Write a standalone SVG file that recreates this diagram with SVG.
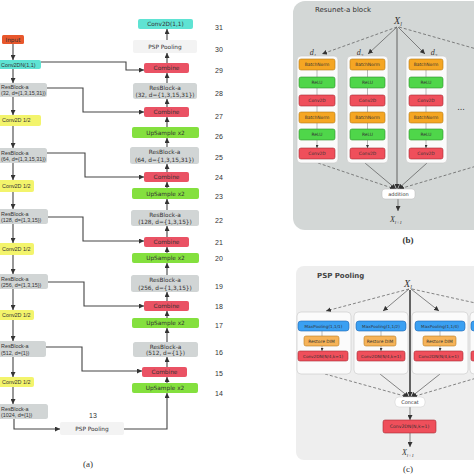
<svg xmlns="http://www.w3.org/2000/svg" width="474" height="474" viewBox="0 0 474 474">
<style>
text{font-family:"DejaVu Sans","Liberation Sans",sans-serif;fill:#333;text-anchor:middle}
.t{font-size:5.8px}
.l{font-family:"Liberation Sans",Arial,sans-serif;font-size:5.4px;text-anchor:start}
.n{font-size:7px;font-family:"Liberation Sans",sans-serif}
.cap{font-size:9px;font-family:"Liberation Serif",serif}
.math{font-size:10px;font-family:"Liberation Serif",serif;font-style:italic}
.inp{fill:#e8572c}
.cyan{fill:#5fe3d3}
.res{fill:#d1d5d5}
.yel{fill:#f3f46c}
.comb{fill:#ea5264}
.up{fill:#84e03e}
.psp{fill:#f3f3f3}
.ln{fill:none;stroke:#444;stroke-width:1.1}
.bl{fill:none;stroke:#555;stroke-width:0.7}
.dash{stroke-dasharray:3,2}
.col{fill:#fbfbfb;stroke:#c8c8c8;stroke-width:0.6}
.bn{fill:#f5a623;stroke:#b37a14;stroke-width:0.6}
.relu{fill:#4fd64a;stroke:#2c8f2a;stroke-width:0.6}
.cv{fill:#ef4f5b;stroke:#a52a33;stroke-width:0.6}
.mp{fill:#3aa0f2;stroke:#1c64b4;stroke-width:0.6}
.rd{fill:#f6b358;stroke:#b97c22;stroke-width:0.6}
.s{font-size:4.4px}
</style>
<defs>
<marker id="ah" viewBox="0 0 10 10" refX="10" refY="5" markerWidth="5" markerHeight="5" markerUnits="userSpaceOnUse" orient="auto"><path d="M0,0 L10,5 L0,10 z" fill="#333"/></marker>
<marker id="as" viewBox="0 0 10 10" refX="10" refY="5" markerWidth="3" markerHeight="3" markerUnits="userSpaceOnUse" orient="auto"><path d="M0,0 L10,5 L0,10 z" fill="#333"/></marker>
</defs>

<!-- panel (a) nodes: encoder -->
<g id="input"><rect class="inp" x="2" y="35" width="22" height="9" rx="1.5"/><text class="t" x="13" y="41.8">Input</text></g>
<g id="conv2dn"><rect class="cyan" x="-16" y="60" width="57" height="9" rx="2"/><text class="l" x="1" y="66.6">Conv2DN(1,1)</text></g>
<g id="enc1"><rect class="res" x="-22" y="83" width="69" height="14" rx="2.5"/><text class="l" x="1" y="89">ResBlock-a</text><text class="l" x="1" y="95.3">(32, d={1,3,15,31})</text></g>
<g id="down1"><rect class="yel" x="-14" y="115" width="55" height="11" rx="2"/><text class="l" x="2" y="122.3">Conv2D 1/2</text></g>
<g id="enc2"><rect class="res" x="-22" y="148" width="69" height="15" rx="2.5"/><text class="l" x="1" y="154.5">ResBlock-a</text><text class="l" x="1" y="161">(64, d={1,3,15,31})</text></g>
<g id="down2"><rect class="yel" x="-14" y="180" width="48" height="12" rx="2"/><text class="l" x="2" y="187.8">Conv2D 1/2</text></g>
<g id="enc3"><rect class="res" x="-22" y="209" width="70" height="15" rx="2.5"/><text class="l" x="1" y="215.5">ResBlock-a</text><text class="l" x="1" y="222">(128, d={1,3,15})</text></g>
<g id="down3"><rect class="yel" x="-14" y="243" width="48" height="12" rx="2"/><text class="l" x="2" y="250.8">Conv2D 1/2</text></g>
<g id="enc4"><rect class="res" x="-22" y="274" width="70" height="15" rx="2.5"/><text class="l" x="1" y="280.5">ResBlock-a</text><text class="l" x="1" y="287">(256, d={1,3,15})</text></g>
<g id="down4"><rect class="yel" x="-14" y="310" width="48" height="10" rx="2"/><text class="l" x="2" y="316.8">Conv2D 1/2</text></g>
<g id="enc5"><rect class="res" x="-22" y="341" width="68" height="16" rx="2.5"/><text class="l" x="1" y="348">ResBlock-a</text><text class="l" x="1" y="354.5">(512, d={1})</text></g>
<g id="down5"><rect class="yel" x="-14" y="377" width="48" height="10" rx="2"/><text class="l" x="2" y="383.8">Conv2D 1/2</text></g>
<g id="enc6"><rect class="res" x="-22" y="404" width="70" height="15" rx="2.5"/><text class="l" x="1" y="410.5">ResBlock-a</text><text class="l" x="1" y="417">(1024, d={1})</text></g>
<g id="psp13"><rect class="psp" x="60" y="422" width="64" height="13" rx="2"/><text class="t" x="92" y="430.5">PSP Pooling</text><text class="n" x="93" y="418">13</text></g>

<!-- decoder -->
<g id="d31"><rect class="cyan" x="138" y="19" width="55" height="10" rx="2"/><text class="t" x="165.5" y="26">Conv2D(1,1)</text><text class="n" x="219" y="29.5">31</text></g>
<g id="d30"><rect class="psp" x="133" y="40" width="64" height="13" rx="2"/><text class="t" x="165" y="48.5">PSP Pooling</text><text class="n" x="219" y="52">30</text></g>
<g id="d29"><rect class="comb" x="144" y="63" width="45" height="10" rx="2"/><text class="t" x="166.5" y="70">Combine</text><text class="n" x="219" y="72.5">29</text></g>
<g id="d28"><rect class="res" x="133" y="83" width="64" height="16" rx="2.5"/><text class="t" x="165" y="89.5">ResBlock-a</text><text class="t" x="165" y="96.5">(32, d={1,3,15,31})</text><text class="n" x="219" y="95.5">28</text></g>
<g id="d27"><rect class="comb" x="144" y="107" width="45" height="10" rx="2"/><text class="t" x="166.5" y="114">Combine</text><text class="n" x="219" y="118.5">27</text></g>
<g id="d26"><rect class="up" x="132" y="127" width="67" height="11" rx="2"/><text class="t" x="165.5" y="134.5">UpSample x2</text><text class="n" x="219" y="138.5">26</text></g>
<g id="d25"><rect class="res" x="130" y="147" width="69" height="17" rx="2.5"/><text class="t" x="164.5" y="154">ResBlock-a</text><text class="t" x="164.5" y="161.5">(64, d={1,3,15,31})</text><text class="n" x="219" y="159.5">25</text></g>
<g id="d24"><rect class="comb" x="144" y="172" width="45" height="10" rx="2"/><text class="t" x="166.5" y="179">Combine</text><text class="n" x="219" y="179.5">24</text></g>
<g id="d23"><rect class="up" x="132" y="188" width="67" height="11" rx="2"/><text class="t" x="165.5" y="195.5">UpSample x2</text><text class="n" x="219" y="198.5">23</text></g>
<g id="d22"><rect class="res" x="131" y="210" width="68" height="16" rx="2.5"/><text class="t" x="165" y="216.5">ResBlock-a</text><text class="t" x="165" y="223.5">(128, d={1,3,15})</text><text class="n" x="219" y="222.5">22</text></g>
<g id="d21"><rect class="comb" x="144" y="237" width="45" height="10" rx="2"/><text class="t" x="166.5" y="244">Combine</text><text class="n" x="219" y="244.5">21</text></g>
<g id="d20"><rect class="up" x="132" y="253" width="67" height="10" rx="2"/><text class="t" x="165.5" y="260">UpSample x2</text><text class="n" x="219" y="260.5">20</text></g>
<g id="d19"><rect class="res" x="131" y="275" width="68" height="17" rx="2.5"/><text class="t" x="165" y="282">ResBlock-a</text><text class="t" x="165" y="289.5">(256, d={1,3,15})</text><text class="n" x="219" y="288.5">19</text></g>
<g id="d18"><rect class="comb" x="144" y="301" width="45" height="10" rx="2"/><text class="t" x="166.5" y="308">Combine</text><text class="n" x="219" y="308.5">18</text></g>
<g id="d17"><rect class="up" x="132" y="318" width="67" height="10" rx="2"/><text class="t" x="165.5" y="325">UpSample x2</text><text class="n" x="219" y="327.5">17</text></g>
<g id="d16"><rect class="res" x="133" y="342" width="65" height="15" rx="2.5"/><text class="t" x="165.5" y="348.5">ResBlock-a</text><text class="t" x="165.5" y="355">(512, d={1})</text><text class="n" x="219" y="354.5">16</text></g>
<g id="d15"><rect class="comb" x="142" y="367" width="45" height="10" rx="2"/><text class="t" x="164.5" y="374">Combine</text><text class="n" x="219" y="375.5">15</text></g>
<g id="d14"><rect class="up" x="132" y="383" width="66" height="10" rx="2"/><text class="t" x="165" y="390">UpSample x2</text><text class="n" x="219" y="395.5">14</text></g>
<text class="cap" x="88" y="467">(a)</text>

<!-- panel (a) connectors -->
<g id="connectors-a" marker-end="url(#ah)">
<path class="ln" d="M13,44 V60"/>
<path class="ln" d="M13,69 V83"/>
<path class="ln" d="M13,97 V115"/>
<path class="ln" d="M13,126 V148"/>
<path class="ln" d="M13,163 V180"/>
<path class="ln" d="M13,192 V209"/>
<path class="ln" d="M13,224 V243"/>
<path class="ln" d="M13,255 V274"/>
<path class="ln" d="M13,289 V310"/>
<path class="ln" d="M13,320 V341"/>
<path class="ln" d="M13,357 V377"/>
<path class="ln" d="M13,387 V404"/>
<path class="ln" d="M14,419 V429 H60"/>
<path class="ln" d="M124,429 H167 V393"/>
<path class="ln" d="M41,62 H126 V70 H144"/>
<path class="ln" d="M47,88 H83 V112 H144"/>
<path class="ln" d="M47,153 H85 V177 H144"/>
<path class="ln" d="M48,217 H83 V241 H144"/>
<path class="ln" d="M48,282 H84 V306 H144"/>
<path class="ln" d="M46,347 H82 V371 H142"/>
<path class="ln" d="M167,383 V377"/>
<path class="ln" d="M167,367 V357"/>
<path class="ln" d="M167,342 V328"/>
<path class="ln" d="M167,318 V311"/>
<path class="ln" d="M167,301 V292"/>
<path class="ln" d="M167,275 V263"/>
<path class="ln" d="M167,253 V247"/>
<path class="ln" d="M167,237 V226"/>
<path class="ln" d="M167,210 V199"/>
<path class="ln" d="M167,188 V182"/>
<path class="ln" d="M167,172 V164"/>
<path class="ln" d="M167,147 V138"/>
<path class="ln" d="M167,127 V117"/>
<path class="ln" d="M167,107 V99"/>
<path class="ln" d="M167,83 V73"/>
<path class="ln" d="M167,63 V53"/>
<path class="ln" d="M167,40 V29"/>
</g>

<!-- panel (b) -->
<g id="resunet-block">
<rect x="293" y="1" width="200" height="229" rx="12" fill="#d3d7d6"/>
<text x="315" y="11.5" style="font-size:7px;text-anchor:start">Resunet-a block</text>
<text class="math" x="398" y="24">X<tspan style="font-size:6px" dy="2">l</tspan></text>
<g id="b-connectors">
<path class="bl dash" d="M397,27 L322,54" marker-end="url(#ah)"/>
<path class="bl" d="M397,27 L368,54" marker-end="url(#ah)"/>
<path class="bl" d="M398,27 L425,54" marker-end="url(#ah)"/>
<path class="bl dash" d="M399,27 L480,50"/>
<path class="bl" style="stroke-width:0.9" d="M397,28 V189" marker-end="url(#ah)"/>
<path class="bl dash" d="M318,163 L395,189" marker-end="url(#ah)"/>
<path class="bl" d="M365,163 L396,189" marker-end="url(#ah)"/>
<path class="bl" d="M427,163 L398,189" marker-end="url(#ah)"/>
<path class="bl dash" d="M480,165 L399,189" marker-end="url(#ah)"/>
<path class="bl" d="M398,199 V211" marker-end="url(#ah)"/>
</g>
<text class="math" style="font-size:8px" x="313" y="55">d<tspan style="font-size:5px" dy="1.5">1</tspan></text>
<text class="math" style="font-size:8px" x="360" y="55">d<tspan style="font-size:5px" dy="1.5">2</tspan></text>
<text class="math" style="font-size:8px" x="434" y="55">d<tspan style="font-size:5px" dy="1.5">3</tspan></text>
<g id="b-col1">
<rect class="col" x="297" y="56" width="41" height="107" rx="4"/>
<rect class="bn" x="299" y="59" width="36" height="11" rx="2"/><text class="s" x="317" y="66.3">BatchNorm</text>
<rect class="relu" x="299" y="77" width="36" height="11" rx="2"/><text class="s" x="317" y="84.3">ReLU</text>
<rect class="cv" x="299" y="95" width="36" height="11" rx="2"/><text class="s" x="317" y="102.3">Conv2D</text>
<rect class="bn" x="299" y="112" width="36" height="11" rx="2"/><text class="s" x="317" y="119.3">BatchNorm</text>
<rect class="relu" x="299" y="129" width="36" height="11" rx="2"/><text class="s" x="317" y="136.3">ReLU</text>
<rect class="cv" x="299" y="148" width="36" height="11" rx="2"/><text class="s" x="317" y="155.3">Conv2D</text>
<g marker-end="url(#as)"><path class="bl" style="stroke-width:0.4" d="M317,70 V77 M317,88 V95 M317,106 V112 M317,123 V129 M317,140 V148"/></g>
</g>
<g id="b-col2">
<rect class="col" x="347" y="56" width="41" height="107" rx="4"/>
<rect class="bn" x="350" y="59" width="35" height="11" rx="2"/><text class="s" x="367.5" y="66.3">BatchNorm</text>
<rect class="relu" x="350" y="77" width="35" height="11" rx="2"/><text class="s" x="367.5" y="84.3">ReLU</text>
<rect class="cv" x="350" y="95" width="35" height="11" rx="2"/><text class="s" x="367.5" y="102.3">Conv2D</text>
<rect class="bn" x="350" y="112" width="35" height="11" rx="2"/><text class="s" x="367.5" y="119.3">BatchNorm</text>
<rect class="relu" x="350" y="129" width="35" height="11" rx="2"/><text class="s" x="367.5" y="136.3">ReLU</text>
<rect class="cv" x="350" y="148" width="35" height="11" rx="2"/><text class="s" x="367.5" y="155.3">Conv2D</text>
<g marker-end="url(#as)"><path class="bl" style="stroke-width:0.4" d="M367.5,70 V77 M367.5,88 V95 M367.5,106 V112 M367.5,123 V129 M367.5,140 V148"/></g>
</g>
<g id="b-col3">
<rect class="col" x="406" y="56" width="41" height="107" rx="4"/>
<rect class="bn" x="409" y="59" width="34" height="11" rx="2"/><text class="s" x="426" y="66.3">BatchNorm</text>
<rect class="relu" x="409" y="77" width="34" height="11" rx="2"/><text class="s" x="426" y="84.3">ReLU</text>
<rect class="cv" x="409" y="95" width="34" height="11" rx="2"/><text class="s" x="426" y="102.3">Conv2D</text>
<rect class="bn" x="409" y="112" width="34" height="11" rx="2"/><text class="s" x="426" y="119.3">BatchNorm</text>
<rect class="relu" x="409" y="129" width="34" height="11" rx="2"/><text class="s" x="426" y="136.3">ReLU</text>
<rect class="cv" x="409" y="148" width="34" height="11" rx="2"/><text class="s" x="426" y="155.3">Conv2D</text>
<g marker-end="url(#as)"><path class="bl" style="stroke-width:0.4" d="M426,70 V77 M426,88 V95 M426,106 V112 M426,123 V129 M426,140 V148"/></g>
</g>
<text x="461" y="110" style="font-size:8px">...</text>
<g id="addition"><rect x="382" y="189" width="33" height="10" rx="3" fill="#fff" stroke="#bbb" stroke-width="0.5"/><text class="s" style="font-size:5px" x="398.5" y="196">addition</text></g>
<text class="math" style="font-size:8px" x="396" y="222">X<tspan style="font-size:5px" dy="2">l+1</tspan></text>
<text class="cap" style="font-weight:bold" x="408" y="243">(b)</text>
</g>

<!-- panel (c) -->
<g id="psp-pooling">
<rect x="296" y="266" width="200" height="194" rx="8" fill="#eeeeee"/>
<text x="317" y="277.5" style="font-size:7px;text-anchor:start;font-weight:bold;fill:#444">PSP Pooling</text>
<text class="math" x="408" y="287">X<tspan style="font-size:6px" dy="2">l</tspan></text>
<g id="c-connectors">
<path class="bl dash" d="M409,289 L326,311" marker-end="url(#ah)"/>
<path class="bl" d="M409,289 L383,311" marker-end="url(#ah)"/>
<path class="bl" d="M411,289 L439,311" marker-end="url(#ah)"/>
<path class="bl dash" d="M412,289 L480,304"/>
<path class="bl" style="stroke-width:1.5;stroke:#333" d="M410,290 V397" marker-end="url(#ah)"/>
<path class="bl dash" d="M325,374 L408,397" marker-end="url(#ah)"/>
<path class="bl" d="M380,374 L409,397" marker-end="url(#ah)"/>
<path class="bl" d="M440,374 L411,397" marker-end="url(#ah)"/>
<path class="bl dash" d="M480,377 L412,397" marker-end="url(#ah)"/>
<path class="bl" d="M410,407 V420" marker-end="url(#ah)"/>
<path class="bl" d="M410,433 V447" marker-end="url(#ah)"/>
</g>
<g id="c-col1">
<rect class="col" x="297" y="312" width="54" height="62" rx="4"/>
<rect class="mp" x="298" y="321" width="51" height="10" rx="3"/><text class="s" style="font-size:4.2px" x="323.5" y="327.5">MaxPooling(1,1/1)</text>
<rect class="rd" x="304" y="336" width="35" height="10" rx="2"/><text class="s" x="321.5" y="342.5">Restore DIM</text>
<rect class="cv" x="298" y="351" width="50" height="10" rx="2"/><text class="s" style="font-size:4.2px" x="323" y="357.5">Conv2DN(N/4,k=1)</text>
<g marker-end="url(#as)"><path class="bl" style="stroke-width:0.4" d="M322,331 V336 M322,346 V351"/></g>
</g>
<g id="c-col2">
<rect class="col" x="354" y="312" width="54" height="62" rx="4"/>
<rect class="mp" x="356" y="321" width="50" height="10" rx="3"/><text class="s" style="font-size:4.2px" x="381" y="327.5">MaxPooling(1,1/2)</text>
<rect class="rd" x="364" y="336" width="32" height="10" rx="2"/><text class="s" x="380" y="342.5">Restore DIM</text>
<rect class="cv" x="357" y="351" width="48" height="10" rx="2"/><text class="s" style="font-size:4.2px" x="381" y="357.5">Conv2DN(N/4,k=1)</text>
<g marker-end="url(#as)"><path class="bl" style="stroke-width:0.4" d="M381,331 V336 M381,346 V351"/></g>
</g>
<g id="c-col3">
<rect class="col" x="412" y="312" width="56" height="62" rx="4"/>
<rect class="mp" x="415" y="321" width="50" height="10" rx="3"/><text class="s" style="font-size:4.2px" x="440" y="327.5">MaxPooling(1,1/4)</text>
<rect class="rd" x="423" y="336" width="33" height="10" rx="2"/><text class="s" x="439.5" y="342.5">Restore DIM</text>
<rect class="cv" x="414" y="351" width="49" height="10" rx="2"/><text class="s" style="font-size:4.2px" x="438.5" y="357.5">Conv2DN(N/4,k=1)</text>
<g marker-end="url(#as)"><path class="bl" style="stroke-width:0.4" d="M440,331 V336 M440,346 V351"/></g>
</g>
<g id="c-col4">
<rect class="col" x="470" y="312" width="30" height="62" rx="4"/>
<rect class="mp" x="471" y="321" width="20" height="10" rx="3"/>
<rect class="cv" x="471" y="351" width="20" height="10" rx="2"/>
</g>
<g id="concat"><rect x="395" y="397" width="30" height="10" rx="4" fill="#fff" stroke="#ccc" stroke-width="0.5"/><text class="s" style="font-size:5px" x="410" y="404">Concat</text></g>
<g id="conv-out"><rect class="cv" x="383" y="420" width="53" height="13" rx="2"/><text class="s" style="font-size:4.6px" x="409.5" y="428">Conv2DN(N,k=1)</text></g>
<text class="math" style="font-size:8px" x="408" y="455">X<tspan style="font-size:5px" dy="2">l+1</tspan></text>
<text class="cap" x="408" y="471.5">(c)</text>
</g>
</svg>
